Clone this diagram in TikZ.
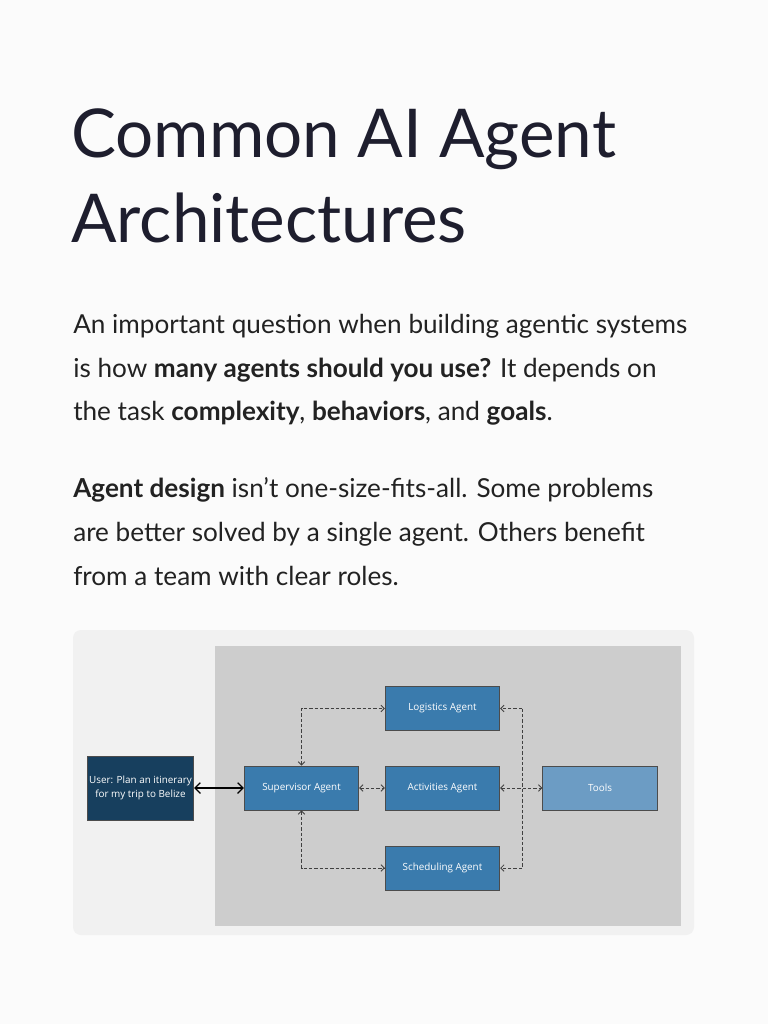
\documentclass[tikz,border=0pt]{standalone}
\usepackage{fontspec}
\setmainfont{Lato}
\newfontfamily\diag{Open Sans}
\usetikzlibrary{arrows.meta}
\definecolor{pagebg}{HTML}{FBFBFB}
\definecolor{cardbg}{HTML}{F1F1F1}
\definecolor{innerbg}{HTML}{CDCDCD}
\definecolor{userc}{HTML}{173F5E}
\definecolor{agentc}{HTML}{3A7BAD}
\definecolor{toolc}{HTML}{6C9CC4}
\definecolor{txt}{HTML}{222222}
\definecolor{ttl}{HTML}{1E1E2E}
\tikzset{
  box/.style={draw=black!70,line width=0.6pt,fill=agentc,text=white,font=\diag\fontsize{7.4}{10}\selectfont,minimum width=86pt,minimum height=33pt,inner sep=0pt,align=center},
  dl/.style={dashed,dash pattern=on 2.5pt off 1.5pt,draw=black!75,line width=0.6pt,-{Straight Barb[length=2.5pt]}},
  dd/.style={dl,{Straight Barb[length=2.5pt]}-{Straight Barb[length=2.5pt]}},
  body/.style={anchor=base west,inner sep=0pt,text=txt,font=\fontsize{19.6}{22}\selectfont},
  ttlst/.style={anchor=base west,inner sep=0pt,text=ttl,font=\fontsize{50.5}{56}\selectfont}
}
\begin{document}
\begin{tikzpicture}[x=0.75pt,y=-0.75pt]
\fill[pagebg] (0,0) rectangle (768,1024);
\useasboundingbox (0,0) rectangle (768,1024);
\node[ttlst] (t1) at (71,157) {Common AI Agent};
\node[ttlst] (t2) at (71,242) {Architectures};
\node[body] (b1) at (73,333) {An important question when building agentic systems};
\node[body] (b2) at (73,377) {is how \textbf{many agents should you use?} It depends on};
\node[body] (b3) at (73,420) {the task \textbf{complexity}, \textbf{behaviors}, and \textbf{goals}.};
\node[body] (p1) at (73,497) {\textbf{Agent design} isn’t one-size-fits-all. Some problems};
\node[body] (p2) at (73,541) {are better solved by a single agent. Others benefit};
\node[body] (p3) at (73,585) {from a team with clear roles.};
\fill[cardbg,rounded corners=6pt] (73,630) rectangle (694,935);
\fill[innerbg] (215,646) rectangle (681,926);
\node[box,fill=userc,minimum width=80pt,minimum height=48pt] (user) at (140.5,788) {User: Plan an itinerary\\for my trip to Belize};
\node[box] (sup) at (301.5,788) {Supervisor Agent};
\node[box] (log) at (442.5,708.5) {Logistics Agent};
\node[box] (act) at (442.5,788) {Activities Agent};
\node[box] (sch) at (442.5,868) {Scheduling Agent};
\node[box,fill=toolc] (tools) at (600,788) {Tools};
\draw[line width=0.9pt,{Straight Barb[length=4pt]}-{Straight Barb[length=4pt]}] (user) -- (sup);
\draw[dd] (sup.north) |- (log.west);
\draw[dd] (sup.south) |- (sch.west);
\draw[dd] (sup) -- (act);
\coordinate (vx) at (522,788);
\draw[dl] (vx |- log) -- (log.east);
\draw[dl] (vx |- sch) -- (sch.east);
\draw[dashed,dash pattern=on 2.5pt off 1.5pt,draw=black!75,line width=0.6pt] (vx |- log) -- (vx |- sch);
\draw[dd] (act) -- (tools);
\end{tikzpicture}
\end{document}
